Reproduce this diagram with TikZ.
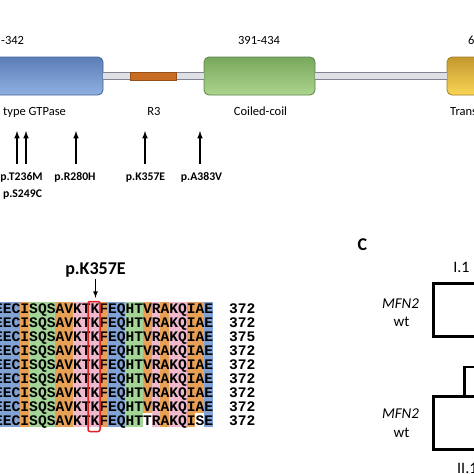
\documentclass[tikz,border=0pt]{standalone}
\usepackage{fontspec}
\setmainfont{Carlito}
\newfontfamily\alnfont{Liberation Mono}
\usepackage{xcolor}
\usetikzlibrary{calc, positioning}

\definecolor{gtpdark}{RGB}{92,126,184}
\definecolor{gtplight}{RGB}{142,176,224}
\definecolor{gtpline}{RGB}{70,100,150}
\definecolor{ccdark}{RGB}{120,168,92}
\definecolor{cclight}{RGB}{172,212,142}
\definecolor{ccline}{RGB}{90,130,75}
\definecolor{tmdark}{RGB}{196,152,46}
\definecolor{tmlight}{RGB}{248,214,86}
\definecolor{tmline}{RGB}{160,125,40}
\definecolor{rthree}{RGB}{200,108,35}
\definecolor{barline}{RGB}{128,132,145}
\definecolor{barfill}{RGB}{222,224,230}
\definecolor{alblue}{RGB}{128,162,212}
\definecolor{alorange}{RGB}{232,160,84}
\definecolor{algreen}{RGB}{164,212,152}
\definecolor{alpink}{RGB}{240,186,204}
\definecolor{kred}{RGB}{225,35,40}

\begin{document}
\begin{tikzpicture}[>=latex, x=1pt, y=-1pt,
    protbox/.style={draw, rounded corners=5pt, line width=0.8pt, minimum height=38pt, inner sep=0pt},
    lbl/.style={font=\fontsize{12.5}{14}\selectfont, inner sep=0pt, anchor=base},
    mut/.style={font=\fontsize{11.7}{14}\selectfont\bfseries, inner sep=0pt, anchor=base},
    seqrow/.style={font=\alnfont\bfseries\fontsize{14.6}{16}\selectfont, inner sep=0pt, anchor=base west},
    geno/.style={font=\fontsize{15}{18}\selectfont, inner sep=0pt, anchor=base},
    sq/.style={draw, line width=2.7pt, minimum size=52.5pt, inner sep=0pt}]
    \fill[white] (0,0) rectangle (474,474);
    \useasboundingbox (0,0) rectangle (474,474);

    % Domains of the protein
    \node[protbox, top color=gtpdark, bottom color=gtplight, draw=gtpline, minimum width=123pt] (gtp) at (41.5,76) {};
    \node[protbox, top color=ccdark, bottom color=cclight, draw=ccline, minimum width=111pt] (cc) at (259.5,76) {};
    \node[protbox, top color=tmdark, bottom color=tmlight, draw=tmline, minimum width=112pt] (tm) at (503,76) {};
    \draw[barline, double=barfill, double distance=6pt, line width=1.2pt] (gtp.east) -- (cc.west);
    \draw[barline, double=barfill, double distance=6pt, line width=1.2pt] (cc.east) -- (tm.west);
    \node[draw=rthree!75!black, fill=rthree, minimum width=46pt, minimum height=8pt, inner sep=0pt] (r3) at (153,76) {};

    % Labels of the domains
    \node[lbl, anchor=base west] (gtprange) at (1,44) {-342};
    \node[lbl] (ccrange) at (259,44) {391-434};
    \node[lbl, anchor=base west] (tmrange) at (468,44) {6};
    \node[lbl, anchor=base west] (gtpname) at (3,115) {type GTPase};
    \node[lbl] (r3name) at (154,115) {R3};
    \node[lbl] (ccname) at (260.5,115) {Coiled-coil};
    \node[lbl, anchor=base west] (tmname) at (450,115) {Trans};

    % Variants
    \node[mut] (mT) at (21.5,180) {p.T236M};
    \node[mut] (mS) at (22.5,197) {p.S249C};
    \node[mut] (mR) at (75,180) {p.R280H};
    \node[mut] (mK) at (145.5,180) {p.K357E};
    \node[mut] (mA) at (201.5,180) {p.A383V};
    \foreach \name/\x in {tT/17, tS/26, tR/76, tK/145, tA/200}
        \coordinate (\name) at (\x,131);
    \draw[->, line width=1.5pt] ([yshift=8pt]mT.north -| tT) -- (tT);
    \draw[->, line width=1.5pt] ([yshift=8pt]mT.north -| tS) -- (tS);
    \draw[->, line width=1.5pt] ([yshift=8pt]mR.north -| tR) -- (tR);
    \draw[->, line width=1.5pt] ([yshift=8pt]mK.north -| tK) -- (tK);
    \draw[->, line width=1.5pt] ([yshift=8pt]mA.north -| tA) -- (tA);

    % Alignment
    \foreach \c [count=\i from 0] in {alblue,alblue,alblue,alorange,algreen,algreen,algreen,alorange,alorange,alpink,alpink,alpink,alorange,alblue,alblue,algreen,algreen,alorange,alpink,alorange,alpink,alpink,alorange,alorange,alblue}
        \fill[\c] (-6+\i*8.76,302) rectangle ++(8.76,125);
    \fill[white] (-6+17*8.76,413.2) rectangle ++(8.76,13.8);
    \fill[white] (-6+23*8.76,413.2) rectangle ++(8.76,13.8);
    \foreach \sq/\nm [count=\r from 0] in {EECISQSAVKTKFEQHTVRAKQIAE/372, EECISQSAVKTKFEQHTVRAKQIAE/372,
        EECISQSAVKTKFEQHTVRAKQIAE/375, EECISQSAVKTKFEQHTVRAKQIAE/372, EECISQSAVKTKFEQHTVRAKQIAE/372,
        EECISQSAVKTKFEQHTVRAKQIAE/372, EECISQSAVKTKFEQHTVRAKQIAE/372, EECISQSAVKTKFEQHTVRAKQIAE/372,
        EECISQSAVKTKFEQHTTRAKQISE/372} {
        \node[seqrow] (row\r) at (-6,{313.8+13.9*\r}) {\sq};
        \node[seqrow] (num\r) at (229,{313.8+13.9*\r}) {\nm};
    }
    \node[draw=kred, line width=1.5pt, rounded corners=2pt, minimum width=12pt, minimum height=130pt, inner sep=0pt] (kbox) at (94,366.5) {};
    \node[font=\fontsize{18}{20}\selectfont\bfseries, inner sep=0pt, anchor=base] (pk) at (95.5,274) {p.K357E};
    \draw[->, line width=1.2pt, shorten <=2pt, shorten >=3pt] (pk.south) -- (pk.south |- kbox.north);

    % Pedigree
    \node[font=\fontsize{18}{20}\selectfont\bfseries, inner sep=0pt, anchor=base] (panelc) at (362.5,250.5) {C};
    \node[sq] (i1) at (460,310) {};
    \node[sq] (ii1) at (460,423) {};
    \node[font=\fontsize{16}{18}\selectfont, inner sep=0pt, anchor=base] (i1lab) at (461.5,272) {I.1};
    \node[font=\fontsize{16}{18}\selectfont, inner sep=0pt, anchor=base west] (ii1lab) at (457,473.5) {II.1};
    \node[geno] (g1a) at (400.5,308) {\textit{MFN2}};
    \node[geno] (g1b) at (401.5,326) {wt};
    \node[geno] (g2a) at (400.5,418) {\textit{MFN2}};
    \node[geno] (g2b) at (401.5,437) {wt};
    \coordinate (sib) at (464.5,367);
    \coordinate (sibend) at (480,367);
    \draw[line width=2.7pt] (sibend) -- (sib) -- (sib |- ii1.north);
\end{tikzpicture}
\end{document}
